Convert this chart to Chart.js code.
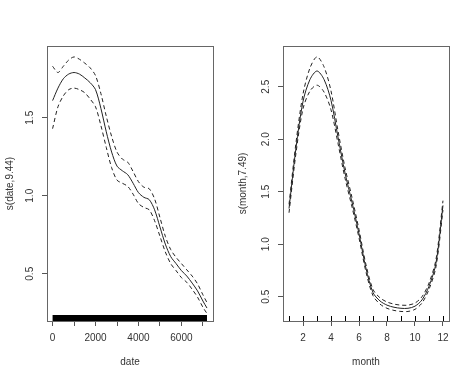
<!DOCTYPE html>
<html>
<head>
<meta charset="utf-8">
<script src="https://cdn.jsdelivr.net/npm/chart.js@4.4.1/dist/chart.umd.min.js"></script>
<style>
  body { margin: 0; background: #fff; }
  .panel { position: absolute; top: 0; width: 237px; height: 379px; }
</style>
</head>
<body>
<div class="panel" style="left:0"><canvas id="dateChart" width="237" height="379"></canvas></div>
<div class="panel" style="left:236px"><canvas id="monthChart" width="237" height="379"></canvas></div>
<script>
// s(date, 9.44): fitted smooth and the two dashed +-2 se bands
const dates = [0, 250, 500, 750, 1000, 1250, 1500, 1750, 2000, 2250, 2500, 2750, 3000, 3250, 3500,
  3750, 4000, 4250, 4500, 4750, 5000, 5250, 5500, 5750, 6000, 6250, 6500, 6750, 7000, 7190];
const dateFit = [1.61, 1.69, 1.75, 1.78, 1.79, 1.78, 1.755, 1.725, 1.68, 1.56, 1.41, 1.28, 1.19, 1.16, 1.135,
  1.08, 1.02, 0.99, 0.975, 0.91, 0.80, 0.69, 0.61, 0.565, 0.52, 0.485, 0.44, 0.39, 0.325, 0.28];
const dateUpper = [1.83, 1.79, 1.83, 1.87, 1.89, 1.875, 1.85, 1.82, 1.77, 1.655, 1.51, 1.38, 1.28, 1.235, 1.215,
  1.155, 1.09, 1.055, 1.045, 0.98, 0.86, 0.74, 0.655, 0.605, 0.565, 0.525, 0.485, 0.435, 0.365, 0.315];
const dateLower = [1.43, 1.57, 1.64, 1.68, 1.69, 1.68, 1.66, 1.62, 1.57, 1.45, 1.31, 1.18, 1.10, 1.08, 1.06,
  1.01, 0.95, 0.925, 0.91, 0.84, 0.74, 0.64, 0.565, 0.52, 0.475, 0.445, 0.40, 0.35, 0.285, 0.245];
const dateXTicks = [0, 1000, 2000, 3000, 4000, 5000, 6000, 7000];
const dateYTicks = [0.5, 1.0, 1.5];
const dateRug = [0, 7190]; // observations cover the whole range -> solid band

// s(month, 7.49)
const months = [1, 1.5, 2, 2.5, 3, 3.5, 4, 4.5, 5, 5.5, 6, 6.5, 7, 7.5, 8, 8.5, 9, 9.5, 10, 10.5, 11, 11.5, 12];
const monthFit = [1.34, 1.92, 2.36, 2.57, 2.65, 2.57, 2.37, 2.02, 1.68, 1.40, 1.10, 0.77, 0.54, 0.46, 0.42,
  0.40, 0.39, 0.39, 0.41, 0.47, 0.60, 0.82, 1.37];
const monthUpper = [1.38, 1.97, 2.43, 2.68, 2.785, 2.69, 2.46, 2.08, 1.73, 1.445, 1.14, 0.805, 0.57, 0.49, 0.45,
  0.43, 0.42, 0.42, 0.44, 0.50, 0.63, 0.855, 1.415];
const monthLower = [1.30, 1.87, 2.29, 2.46, 2.515, 2.45, 2.28, 1.96, 1.63, 1.355, 1.06, 0.735, 0.51, 0.43, 0.39,
  0.37, 0.36, 0.36, 0.38, 0.44, 0.57, 0.785, 1.325];
const monthXTicks = [2, 4, 6, 8, 10, 12];
const monthYTicks = [0.5, 1.0, 1.5, 2.0, 2.5];
const monthRug = [1, 2, 3, 4, 5, 6, 7, 8, 9, 10, 11, 12];

const FONT = { family: "'Liberation Sans', Arial, sans-serif", size: 10 };
const TEXT = "#333";
const LINE = "#222";

// box around plot region + rug along the bottom
const frameRug = {
  id: "frameRug",
  afterDatasetsDraw(chart, args, opts) {
    const { ctx, chartArea: a, scales } = chart;
    const x = scales.x;
    ctx.save();
    ctx.fillStyle = "#000";
    ctx.strokeStyle = "#000";
    if (opts.band) {
      const x0 = x.getPixelForValue(opts.band[0]);
      const x1 = x.getPixelForValue(opts.band[1]);
      ctx.fillRect(x0, a.bottom - 6, x1 - x0, 6);
    }
    if (opts.ticks) {
      ctx.lineWidth = 1;
      opts.ticks.forEach(v => {
        const px = Math.round(x.getPixelForValue(v)) + 0.5;
        ctx.beginPath();
        ctx.moveTo(px, a.bottom);
        ctx.lineTo(px, a.bottom - 5);
        ctx.stroke();
      });
    }
    ctx.strokeStyle = "#666";
    ctx.lineWidth = 1;
    ctx.strokeRect(Math.round(a.left) + 0.5, Math.round(a.top) + 0.5,
      Math.round(a.right - a.left), Math.round(a.bottom - a.top));
    ctx.restore();
  }
};

function curve(xs, ys, dashed) {
  return {
    data: xs.map((v, i) => ({ x: v, y: ys[i] })),
    borderColor: LINE,
    borderWidth: 1,
    borderDash: dashed ? [4, 3] : [],
    pointRadius: 0,
    tension: 0.3,
    fill: false
  };
}

function makePanel(id, xs, fit, upper, lower, cfg) {
  return new Chart(document.getElementById(id), {
    type: "line",
    data: {
      datasets: [curve(xs, fit, false), curve(xs, upper, true), curve(xs, lower, true)]
    },
    options: {
      responsive: false,
      animation: false,
      devicePixelRatio: 1,
      layout: { padding: { top: 46, right: 24, left: 0, bottom: 0 } },
      plugins: {
        legend: { display: false },
        tooltip: { enabled: false },
        frameRug: cfg.rug
      },
      scales: {
        x: {
          type: "linear",
          min: cfg.xMin,
          max: cfg.xMax,
          afterBuildTicks: s => { s.ticks = cfg.xTicks.map(v => ({ value: v })); },
          afterFit: s => { s.height = 58; },
          border: { display: false },
          grid: { drawOnChartArea: false, drawTicks: true, tickLength: 5, tickColor: "#555" },
          ticks: {
            color: TEXT, font: FONT, padding: 6, maxRotation: 0, autoSkip: false,
            callback: cfg.xLabel
          },
          title: { display: true, text: cfg.xTitle, color: TEXT, font: FONT, padding: { top: 0, bottom: 11 } }
        },
        y: {
          min: cfg.yMin,
          max: cfg.yMax,
          afterBuildTicks: s => { s.ticks = cfg.yTicks.map(v => ({ value: v })); },
          afterFit: s => { s.width = 47; },
          border: { display: false },
          grid: { drawOnChartArea: false, drawTicks: true, tickLength: 5, tickColor: "#555" },
          ticks: {
            color: TEXT, font: FONT, padding: 5, minRotation: 90, maxRotation: 90,
            crossAlign: "center",
            callback: v => v.toFixed(1)
          },
          title: { display: true, text: cfg.yTitle, color: TEXT, font: FONT, padding: { top: cfg.yTitlePad, bottom: 0 } }
        }
      }
    },
    plugins: [frameRug]
  });
}

makePanel("dateChart", dates, dateFit, dateUpper, dateLower, {
  xMin: -260, xMax: 7470, yMin: 0.197, yMax: 1.96,
  xTicks: dateXTicks, yTicks: dateYTicks,
  xLabel: v => (v % 2000 === 0 ? String(v) : ""),
  xTitle: "date", yTitle: "s(date,9.44)", yTitlePad: 4,
  rug: { band: dateRug }
});

makePanel("monthChart", months, monthFit, monthUpper, monthLower, {
  xMin: 0.57, xMax: 12.43, yMin: 0.269, yMax: 2.888,
  xTicks: monthXTicks, yTicks: monthYTicks,
  xLabel: v => String(v),
  xTitle: "month", yTitle: "s(month,7.49)", yTitlePad: 1,
  rug: { ticks: monthRug }
});
</script>
</body>
</html>
